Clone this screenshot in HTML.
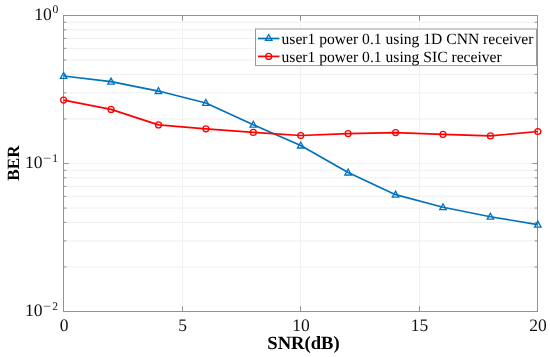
<!DOCTYPE html><html><head><meta charset="utf-8"><style>html,body{margin:0;padding:0;background:#fff;}svg{display:block;filter:blur(0.3px);}text{font-family:"Liberation Serif",serif;text-rendering:geometricPrecision;}</style></head><body>
<svg width="550" height="357" viewBox="0 0 550 357">
<rect x="0" y="0" width="550" height="357" fill="#fff"/>
<path d="M63.5 118.95H537.5 M63.5 92.89H537.5 M63.5 74.40H537.5 M63.5 60.05H537.5 M63.5 48.33H537.5 M63.5 38.43H537.5 M63.5 29.84H537.5 M63.5 22.27H537.5 M63.5 266.95H537.5 M63.5 240.89H537.5 M63.5 222.40H537.5 M63.5 208.05H537.5 M63.5 196.33H537.5 M63.5 186.43H537.5 M63.5 177.84H537.5 M63.5 170.27H537.5" stroke="#efefef" stroke-width="1" fill="none"/>
<path d="M63.5 163.50H537.5 M182.50 15.5V311.5 M300.50 15.5V311.5 M419.50 15.5V311.5" stroke="#f1f1f1" stroke-width="1" fill="none"/>
<path d="M63.50 311.5v-5.2M63.50 15.5v5.2 M182.50 311.5v-5.2M182.50 15.5v5.2 M300.50 311.5v-5.2M300.50 15.5v5.2 M419.50 311.5v-5.2M419.50 15.5v5.2 M537.50 311.5v-5.2M537.50 15.5v5.2 M63.5 15.50h5.2M537.5 15.50h-5.2 M63.5 163.50h5.2M537.5 163.50h-5.2 M63.5 311.50h5.2M537.5 311.50h-5.2 M63.5 118.95h2.8M537.5 118.95h-2.8 M63.5 92.89h2.8M537.5 92.89h-2.8 M63.5 74.40h2.8M537.5 74.40h-2.8 M63.5 60.05h2.8M537.5 60.05h-2.8 M63.5 48.33h2.8M537.5 48.33h-2.8 M63.5 38.43h2.8M537.5 38.43h-2.8 M63.5 29.84h2.8M537.5 29.84h-2.8 M63.5 22.27h2.8M537.5 22.27h-2.8 M63.5 266.95h2.8M537.5 266.95h-2.8 M63.5 240.89h2.8M537.5 240.89h-2.8 M63.5 222.40h2.8M537.5 222.40h-2.8 M63.5 208.05h2.8M537.5 208.05h-2.8 M63.5 196.33h2.8M537.5 196.33h-2.8 M63.5 186.43h2.8M537.5 186.43h-2.8 M63.5 177.84h2.8M537.5 177.84h-2.8 M63.5 170.27h2.8M537.5 170.27h-2.8" stroke="#939393" stroke-width="1" fill="none"/>
<rect x="63.5" y="15.5" width="474.0" height="296.0" fill="none" stroke="#939393" stroke-width="1"/>
<polyline points="63.60,76.00 111.03,81.65 158.45,91.05 205.88,102.95 253.30,124.75 300.73,145.55 348.15,172.55 395.58,194.65 443.00,207.25 490.43,216.75 537.85,224.65" fill="none" stroke="#0072BD" stroke-width="1.7" stroke-linejoin="round"/>
<polyline points="63.60,100.10 111.03,109.40 158.45,124.90 205.88,128.80 253.30,132.40 300.73,135.50 348.15,133.60 395.58,132.60 443.00,134.40 490.43,135.90 537.85,131.50" fill="none" stroke="#FF0000" stroke-width="1.7" stroke-linejoin="round"/>
<path d="M63.60 72.50L66.85 78.45H60.35Z" fill="none" stroke="#0072BD" stroke-width="1.3" stroke-linejoin="miter"/>
<path d="M111.03 78.15L114.28 84.10H107.78Z" fill="none" stroke="#0072BD" stroke-width="1.3" stroke-linejoin="miter"/>
<path d="M158.45 87.55L161.70 93.50H155.20Z" fill="none" stroke="#0072BD" stroke-width="1.3" stroke-linejoin="miter"/>
<path d="M205.88 99.45L209.12 105.40H202.62Z" fill="none" stroke="#0072BD" stroke-width="1.3" stroke-linejoin="miter"/>
<path d="M253.30 121.25L256.55 127.20H250.05Z" fill="none" stroke="#0072BD" stroke-width="1.3" stroke-linejoin="miter"/>
<path d="M300.73 142.05L303.98 148.00H297.48Z" fill="none" stroke="#0072BD" stroke-width="1.3" stroke-linejoin="miter"/>
<path d="M348.15 169.05L351.40 175.00H344.90Z" fill="none" stroke="#0072BD" stroke-width="1.3" stroke-linejoin="miter"/>
<path d="M395.58 191.15L398.83 197.10H392.33Z" fill="none" stroke="#0072BD" stroke-width="1.3" stroke-linejoin="miter"/>
<path d="M443.00 203.75L446.25 209.70H439.75Z" fill="none" stroke="#0072BD" stroke-width="1.3" stroke-linejoin="miter"/>
<path d="M490.43 213.25L493.68 219.20H487.18Z" fill="none" stroke="#0072BD" stroke-width="1.3" stroke-linejoin="miter"/>
<path d="M537.85 221.15L541.10 227.10H534.60Z" fill="none" stroke="#0072BD" stroke-width="1.3" stroke-linejoin="miter"/>
<circle cx="63.60" cy="100.10" r="2.95" fill="none" stroke="#FF0000" stroke-width="1.3"/>
<circle cx="111.03" cy="109.40" r="2.95" fill="none" stroke="#FF0000" stroke-width="1.3"/>
<circle cx="158.45" cy="124.90" r="2.95" fill="none" stroke="#FF0000" stroke-width="1.3"/>
<circle cx="205.88" cy="128.80" r="2.95" fill="none" stroke="#FF0000" stroke-width="1.3"/>
<circle cx="253.30" cy="132.40" r="2.95" fill="none" stroke="#FF0000" stroke-width="1.3"/>
<circle cx="300.73" cy="135.50" r="2.95" fill="none" stroke="#FF0000" stroke-width="1.3"/>
<circle cx="348.15" cy="133.60" r="2.95" fill="none" stroke="#FF0000" stroke-width="1.3"/>
<circle cx="395.58" cy="132.60" r="2.95" fill="none" stroke="#FF0000" stroke-width="1.3"/>
<circle cx="443.00" cy="134.40" r="2.95" fill="none" stroke="#FF0000" stroke-width="1.3"/>
<circle cx="490.43" cy="135.90" r="2.95" fill="none" stroke="#FF0000" stroke-width="1.3"/>
<circle cx="537.85" cy="131.50" r="2.95" fill="none" stroke="#FF0000" stroke-width="1.3"/>
<rect x="255.5" y="29" width="281" height="36.6" fill="#fff" stroke="#9a9a9a" stroke-width="1"/>
<path d="M258 38.5H279.5" stroke="#0072BD" stroke-width="1.7"/>
<path d="M268.70 34.50L271.95 40.45H265.45Z" fill="none" stroke="#0072BD" stroke-width="1.3" stroke-linejoin="miter"/>
<path d="M258 56.4H279.5" stroke="#FF0000" stroke-width="1.7"/>
<circle cx="268.70" cy="56.40" r="2.95" fill="none" stroke="#FF0000" stroke-width="1.3"/>
<text x="281.5" y="44.2" font-size="15.62" fill="#000">user1 power 0.1 using 1D CNN receiver</text>
<text x="281.5" y="61.6" font-size="15.62" fill="#000">user1 power 0.1 using SIC receiver</text>
<text x="64.00" y="331.2" font-size="17.5" text-anchor="middle" fill="#111">0</text>
<text x="182.50" y="331.2" font-size="17.5" text-anchor="middle" fill="#111">5</text>
<text x="301.00" y="331.2" font-size="17.5" text-anchor="middle" fill="#111">10</text>
<text x="419.50" y="331.2" font-size="17.5" text-anchor="middle" fill="#111">15</text>
<text x="538.00" y="331.2" font-size="17.5" text-anchor="middle" fill="#111">20</text>
<text transform="translate(51.90 19.90)" font-size="17.6" text-anchor="end" fill="#111">10</text>
<text x="52.5" y="13.10" font-size="11.6" fill="#111">0</text>
<text transform="translate(42.60 167.90)" font-size="17.6" text-anchor="end" fill="#111">10</text>
<text x="43.0" y="162.00" font-size="11.6" fill="#111" textLength="8.2" lengthAdjust="spacingAndGlyphs">−</text>
<text x="52.2" y="161.80" font-size="11.6" fill="#111">1</text>
<text transform="translate(42.60 315.90)" font-size="17.6" text-anchor="end" fill="#111">10</text>
<text x="43.0" y="310.00" font-size="11.6" fill="#111" textLength="8.2" lengthAdjust="spacingAndGlyphs">−</text>
<text x="52.2" y="309.80" font-size="11.6" fill="#111">2</text>
<text x="303.5" y="349.4" font-size="18.6" font-weight="bold" text-anchor="middle" fill="#000">SNR(dB)</text>
<text transform="translate(18.6 163) rotate(-90)" font-size="17.2" font-weight="bold" text-anchor="middle" fill="#000">BER</text>
</svg></body></html>
